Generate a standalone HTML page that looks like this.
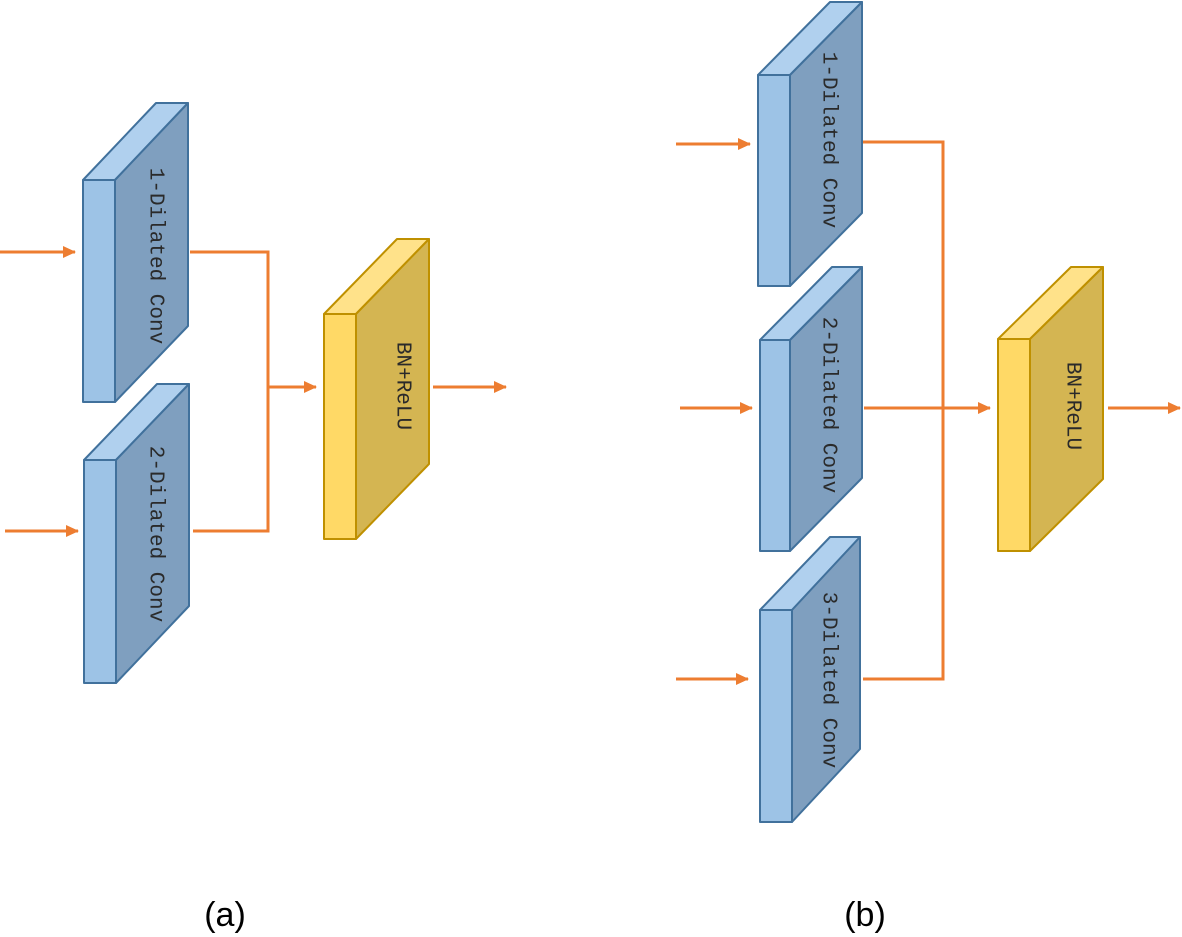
<!DOCTYPE html>
<html><head><meta charset="utf-8"><style>
html,body{margin:0;padding:0;background:#fff;}
svg{display:block;}
.t{font-family:"Liberation Mono",monospace;font-size:21px;fill:#2a2a2a;}
.l{font-family:"Liberation Sans",sans-serif;font-size:34px;fill:#000;}
</style></head><body>
<svg width="1182" height="937" viewBox="0 0 1182 937" xmlns="http://www.w3.org/2000/svg">
<defs>
<marker id="ar" markerWidth="13" markerHeight="12" refX="12" refY="6" orient="auto" markerUnits="userSpaceOnUse">
<path d="M0,0 L13,6 L0,12 Z" fill="#ed7d31"/></marker>
</defs>
<g stroke="#ed7d31" stroke-width="3" fill="none">
<line x1="0" y1="252" x2="75" y2="252" marker-end="url(#ar)"/>
<line x1="5" y1="531" x2="78" y2="531" marker-end="url(#ar)"/>
<polyline points="190,252 268,252 268,531 193,531"/>
<line x1="268" y1="387" x2="316" y2="387" marker-end="url(#ar)"/>
<line x1="433" y1="387" x2="506" y2="387" marker-end="url(#ar)"/>
<line x1="676" y1="144" x2="750" y2="144" marker-end="url(#ar)"/>
<line x1="680" y1="408" x2="752" y2="408" marker-end="url(#ar)"/>
<line x1="676" y1="679" x2="748" y2="679" marker-end="url(#ar)"/>
<polyline points="863,142 943,142 943,679 863,679"/>
<line x1="864" y1="408" x2="990" y2="408" marker-end="url(#ar)"/>
<line x1="1108" y1="408" x2="1180" y2="408" marker-end="url(#ar)"/>
</g>
<g stroke="#41719c" stroke-width="2" stroke-linejoin="round">
<rect x="83" y="180" width="32" height="222" fill="#9dc3e6"/>
<polygon points="83,180 156,103 188,103 115,180" fill="#b0d0ee"/>
<polygon points="115,180 188,103 188,326 115,402" fill="#7f9fbf"/>
<rect x="84" y="460" width="32" height="223" fill="#9dc3e6"/>
<polygon points="84,460 157,384 189,384 116,460" fill="#b0d0ee"/>
<polygon points="116,460 189,384 189,606 116,683" fill="#7f9fbf"/>
<rect x="758" y="75" width="32" height="211" fill="#9dc3e6"/>
<polygon points="758,75 830,2 862,2 790,75" fill="#b0d0ee"/>
<polygon points="790,75 862,2 862,213 790,286" fill="#7f9fbf"/>
<rect x="760" y="340" width="30" height="211" fill="#9dc3e6"/>
<polygon points="760,340 832,267 862,267 790,340" fill="#b0d0ee"/>
<polygon points="790,340 862,267 862,478 790,551" fill="#7f9fbf"/>
<rect x="760" y="610" width="32" height="212" fill="#9dc3e6"/>
<polygon points="760,610 830,537 860,537 792,610" fill="#b0d0ee"/>
<polygon points="792,610 860,537 860,749 792,822" fill="#7f9fbf"/>
</g>
<g stroke="#bf9000" stroke-width="2" stroke-linejoin="round">
<rect x="324" y="314" width="32" height="225" fill="#ffd966"/>
<polygon points="324,314 397,239 429,239 356,314" fill="#ffe28a"/>
<polygon points="356,314 429,239 429,464 356,539" fill="#d4b552"/>
<rect x="998" y="339" width="32" height="212" fill="#ffd966"/>
<polygon points="998,339 1071,267 1103,267 1030,339" fill="#ffe28a"/>
<polygon points="1030,339 1103,267 1103,479 1030,551" fill="#d4b552"/>
</g>
<text class="t" transform="translate(155,256) rotate(90)" text-anchor="middle" dominant-baseline="central">1-Dilated Conv</text>
<text class="t" transform="translate(155,534) rotate(90)" text-anchor="middle" dominant-baseline="central">2-Dilated Conv</text>
<text class="t" transform="translate(402,386) rotate(90)" text-anchor="middle" dominant-baseline="central">BN+ReLU</text>
<text class="t" transform="translate(828,140) rotate(90)" text-anchor="middle" dominant-baseline="central">1-Dilated Conv</text>
<text class="t" transform="translate(828,405) rotate(90)" text-anchor="middle" dominant-baseline="central">2-Dilated Conv</text>
<text class="t" transform="translate(828,680) rotate(90)" text-anchor="middle" dominant-baseline="central">3-Dilated Conv</text>
<text class="t" transform="translate(1072,406) rotate(90)" text-anchor="middle" dominant-baseline="central">BN+ReLU</text>
<text class="l" x="225" y="926" text-anchor="middle">(a)</text>
<text class="l" x="865" y="926" text-anchor="middle">(b)</text>
</svg>
</body></html>
